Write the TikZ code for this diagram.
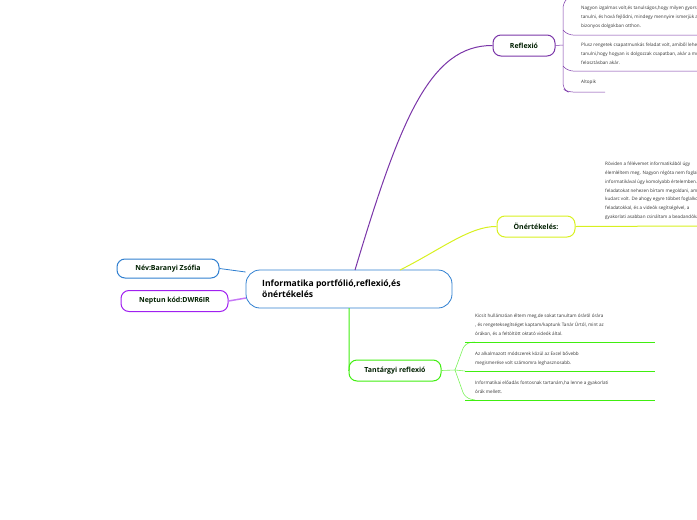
\documentclass[tikz,border=0pt]{standalone}
\usepackage{fontspec}
\setmainfont{Open Sans}
\begin{document}
\begin{tikzpicture}[x=1pt,y=-1pt,
  topic/.style={draw,rounded corners=8pt,line width=1pt,inner sep=0pt,font=\fontsize{7}{8}\selectfont\bfseries,text=black!70!green!40!black},
  small/.style={anchor=north west,align=left,inner sep=0pt,font=\fontsize{4.6}{8.8}\selectfont,text=black!80},
  ]
\useasboundingbox (0,0) rectangle (697,520);
\clip (0,0) rectangle (697,520);
\definecolor{cblue}{HTML}{2F7FD0}
\definecolor{cpurp}{HTML}{7A35A8}
\definecolor{cviol}{HTML}{A020F0}
\definecolor{cyel}{HTML}{D8F020}
\definecolor{cgreen}{HTML}{40EE10}
% central
\node[draw=cblue,rounded corners=14pt,line width=0.8pt,minimum width=206pt,minimum height=38pt,inner sep=0pt] (c) at (349,289) {};
\node[anchor=west,align=left,font=\fontsize{8.6}{11}\selectfont\bfseries,inner sep=0pt] (ct) at (262,289) {Informatika portfólió,reflexió,és\\önértékelés};
% left
\node[topic,draw=cblue,minimum width=102pt,minimum height=19pt] (n) at (168,268.5) {Név:Baranyi Zsófia};
\node[topic,draw=cviol,minimum width=107pt,minimum height=21pt] (np) at (174.5,301) {Neptun kód:DWR6IR};
\draw[cblue,line width=0.8pt] (n.east) -- (c.west |- 0,272);
\draw[cviol!60,line width=1.5pt] (np.east) -- (246,298);
% right topics
\node[topic,draw=cpurp,minimum width=62pt,minimum height=21pt] (r) at (524,45.5) {Reflexió};
\node[topic,draw=cyel,minimum width=78pt,minimum height=21pt] (o) at (536,226.5) {Önértékelés:};
\node[topic,draw=cgreen,minimum width=92pt,minimum height=21pt] (t) at (395,370.5) {Tantárgyi reflexió};
\draw[cpurp,line width=1pt] (355,270) .. controls (400,120) and (430,45) .. (r.west);
\draw[cyel,line width=1pt] (400,270) .. controls (440,250) and (470,226) .. (o.west);
\draw[cgreen,line width=1pt] (349,308) -- (349,370) -- (t.west);
% reflexio children
\draw[cpurp,line width=0.5pt] (r.east) -- (563,45);
\draw[cpurp,line width=0.5pt,rounded corners=5pt] (566,0) -- (563,3) -- (563,89) -- (568,92) -- (605,92);
\draw[cpurp,line width=0.5pt,rounded corners=5pt] (563,30) -- (568,35) -- (697,35);
\draw[cpurp,line width=0.5pt,rounded corners=5pt] (563,66) -- (568,71) -- (697,71);
\node[small] (r1) at (581,6) {Nagyon izgalmas volt,és tanulságos,hogy milyen gyorsan lehet\\tanulni, és hová fejlődni, mindegy mennyire ismerjük a\\bizonyos dolgokban otthon.};
\node[small] (r2) at (581,43) {Plusz rengetek csapatmunkás feladat volt, amiből lehetett\\tanulni,hogy hogyan is dolgozzak csapatban, akár a munka\\felosztásban akár.};
\node[small] (r3) at (581,80) {Altopik};
% onertekeles child
\draw[cyel,line width=1pt] (o.east) -- (697,226);
\node[small] (o1) at (605,162) {Röviden a félévemet informatikából úgy\\élemléltem meg. Nagyon régóta nem foglalkoztam\\informatikával úgy komolyabb értelemben. Ezért a\\feladatokat nehezen bírtam megoldani, ami nagy\\kudarc volt. De ahogy egyre többet foglalkoztam a\\feladatokkal, és a videók segítségével, a\\gyakorlati asabban csináltam a beadandókat.};
% tantargyi children
\draw[cgreen!70,line width=0.6pt] (t.east) -- (455,370);
\draw[cgreen!70,line width=0.6pt,rounded corners=6pt] (455,370) -- (465,343) -- (475,342);
\draw[cgreen!70,line width=0.6pt,rounded corners=6pt] (455,370) -- (465,398) -- (475,400);
\draw[cgreen!70,line width=0.6pt] (455,370) -- (465,371);
\draw[cgreen,line width=1pt] (465,342) -- (655,342);
\draw[cgreen,line width=1pt] (465,371) -- (655,371);
\draw[cgreen,line width=1pt] (465,400) -- (655,400);
\node[small] (t1) at (475,314) {Kicsit  hullámzóan éltem meg,de sokat tanultam óráról órára\\, és rengeteksegítséget kaptam/kaptunk Tanár Úrtól, mint az\\órákon, és a feltöltött oktató videók által.};
\node[small] (t2) at (475,352) {Az alkalmazott módszerek közül az Excel bővebb\\megismerése volt számomra  leghasznosabb.};
\node[small] (t3) at (475,381) {Informatikai előadás fontosnak tartanám,ha lenne a gyakorlati\\órák mellett.};
\end{tikzpicture}
\end{document}
